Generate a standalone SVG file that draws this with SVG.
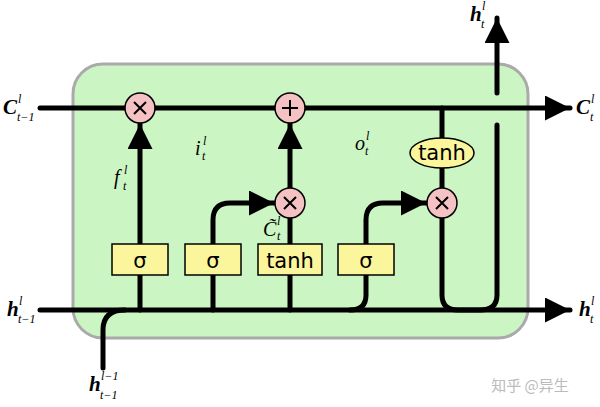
<svg xmlns="http://www.w3.org/2000/svg" width="600" height="407" viewBox="0 0 600 407">
<style>
.w{fill:none;stroke:#000;stroke-width:5;stroke-linecap:round;stroke-linejoin:round}
.op{fill:#f4c2c2;stroke:#000;stroke-width:1.5}
.g{fill:#fbf59b;stroke:#000;stroke-width:1.5}
.gt{font-family:"DejaVu Sans",sans-serif;font-size:21px;text-anchor:middle}
.sym{stroke:#000;stroke-width:2;fill:none}
.m{font-family:"Liberation Serif",serif;font-style:italic;font-weight:bold;font-size:21px}
.s{font-family:"Liberation Serif",serif;font-style:italic;font-size:12px}
.mi{font-family:"Liberation Serif",serif;font-style:italic;font-size:20px}
</style>
<defs>
<marker id="a" viewBox="0 0 10 10" refX="10" refY="5" markerWidth="5" markerHeight="5" orient="auto" markerUnits="strokeWidth"><path d="M0,0L10,5L0,10z"/></marker>
</defs>
<rect x="73" y="64" width="455" height="274" rx="30" fill="#ccf5c4" stroke="#aaa" stroke-width="3"/>
<g id="connectors">
<path class="w" d="M40,108H570" marker-end="url(#a)"/>
<path class="w" d="M40,310H570" marker-end="url(#a)"/>
<path class="w" d="M103,368V330Q103,310 125,310"/>
<path class="w" d="M140,244V124" marker-end="url(#a)"/>
<path class="w" d="M213,244V220Q213,203 230,203H274" marker-end="url(#a)"/>
<path class="w" d="M290,244V218"/>
<path class="w" d="M290,188V124" marker-end="url(#a)"/>
<path class="w" d="M366,244V220Q366,203 383,203H426" marker-end="url(#a)"/>
<path class="w" d="M140,275V310M213,275V310M290,275V310M366,275V295Q366,310 350,310"/>
<path class="w" d="M442,108V138M442,168V188M442,218V295Q442,310 458,310H480Q497,310 497,295V125"/>
<path class="w" d="M497,93V18" marker-end="url(#a)"/>
</g>
<g id="mult1"><circle class="op" cx="140" cy="108" r="15"/><path class="sym" d="M134,102l12,12M146,102l-12,12"/></g>
<g id="plus"><circle class="op" cx="290" cy="108" r="15"/><path class="sym" d="M290,100v16M282,108h16"/></g>
<g id="mult2"><circle class="op" cx="290" cy="203" r="15"/><path class="sym" d="M284,197l12,12M296,197l-12,12"/></g>
<g id="mult3"><circle class="op" cx="442" cy="203" r="15"/><path class="sym" d="M436,197l12,12M448,197l-12,12"/></g>
<g id="tanh2"><ellipse class="g" cx="442" cy="153" rx="32" ry="15"/><text class="gt" x="442" y="160">tanh</text></g>
<g id="g1"><rect class="g" x="112" y="244" width="56" height="31"/><text class="gt" x="140" y="268">σ</text></g>
<g id="g2"><rect class="g" x="185" y="244" width="56" height="31"/><text class="gt" x="213" y="268">σ</text></g>
<g id="g3"><rect class="g" x="258" y="244" width="64" height="31"/><text class="gt" x="290" y="268">tanh</text></g>
<g id="g4"><rect class="g" x="338" y="244" width="56" height="31"/><text class="gt" x="366" y="268">σ</text></g>
<g id="labels">
<text class="m" x="3" y="114">C</text><text class="s" x="18" y="103">l</text><text class="s" x="17" y="121">t−1</text>
<text class="m" x="576" y="114">C</text><text class="s" x="591" y="103">l</text><text class="s" x="590" y="121">t</text>
<text class="m" x="7" y="316">h</text><text class="s" x="19" y="305">l</text><text class="s" x="18" y="323">t−1</text>
<text class="m" x="579" y="316">h</text><text class="s" x="591" y="305">l</text><text class="s" x="590" y="323">t</text>
<text class="m" x="470" y="21">h</text><text class="s" x="482" y="10">l</text><text class="s" x="481" y="28">t</text>
<text class="m" x="89" y="391">h</text><text class="s" x="101" y="380">l−1</text><text class="s" x="100" y="399">t−1</text>
<text class="mi" x="114" y="184">f</text><text class="s" x="124" y="174">l</text><text class="s" x="123" y="190">t</text>
<text class="mi" x="195" y="155">i</text><text class="s" x="203" y="145">l</text><text class="s" x="202" y="160">t</text>
<text class="mi" x="355" y="150">o</text><text class="s" x="366" y="140">l</text><text class="s" x="365" y="155">t</text>
<text class="mi" x="263" y="236" font-size="17">C̃</text><text class="s" x="277" y="225" font-size="10">l</text><text class="s" x="277" y="240" font-size="10">t</text>
<text x="530" y="391" font-family="Noto Sans CJK SC,sans-serif" font-size="15" fill="#bbb" text-anchor="middle">知乎 @异生</text>
</g>
</svg>
